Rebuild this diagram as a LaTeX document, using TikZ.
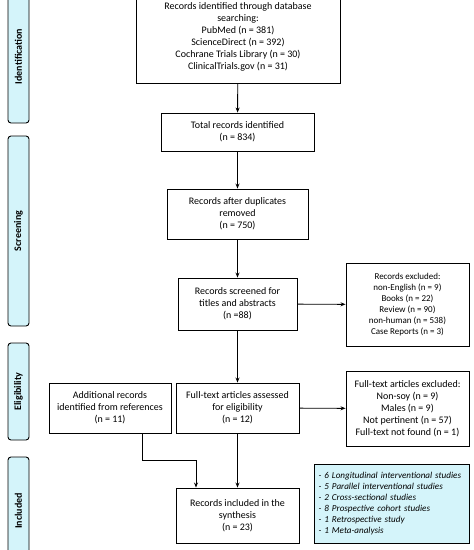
\documentclass[tikz,border=0pt]{standalone}
\usepackage{fontspec}
\setmainfont{Carlito}
\usetikzlibrary{arrows.meta}
\definecolor{phase}{HTML}{D4F4FA}
\begin{document}
\begin{tikzpicture}[x=1pt,y=-1pt,
  box/.style={draw=black,line width=0.9pt,fill=white,align=center,inner sep=0pt,
    font=\fontsize{10}{12}\selectfont},
  phasebox/.style={draw=black,line width=0.9pt,fill=phase,rounded corners=3pt,inner sep=0pt,
    minimum width=21pt,font=\bfseries\fontsize{10}{11}\selectfont},
  arr/.style={line width=0.9pt,-{Stealth[length=5pt,width=4pt]}}]
\useasboundingbox (0,0) rectangle (474,550);
% phase labels
\node[phasebox,minimum height=133pt] (pid) at (18.5,56.5) {\rotatebox{90}{Identification}};
\node[phasebox,minimum height=190pt] (psc) at (18.5,231) {\rotatebox{90}{Screening}};
\node[phasebox,minimum height=97pt] (pel) at (18.5,391.5) {\rotatebox{90}{Eligibility}};
\node[phasebox,minimum height=108pt] (pin) at (18.5,511) {\rotatebox{90}{Included}};
% main boxes
\node[box,minimum width=204pt,minimum height=93pt] (db) at (238,36.5)
  {Records identified through database\\searching:\\PubMed (n = 381)\\ScienceDirect (n = 392)\\Cochrane Trials Library (n = 30)\\ClinicalTrials.gov (n = 31)};
\node[box,minimum width=153pt,minimum height=38pt] (tot) at (237.5,132)
  {Total records identified\\(n = 834)};
\node[box,minimum width=141pt,minimum height=50pt] (dup) at (237.5,214)
  {Records after duplicates\\removed\\(n = 750)};
\node[box,minimum width=119pt,minimum height=52pt] (scr) at (237.5,304)
  {Records screened for\\titles and abstracts\\(n =88)};
\node[box,minimum width=123pt,minimum height=83pt,font=\fontsize{9}{11}\selectfont] (exc) at (407.5,304.5)
  {Records excluded:\\non-English (n = 9)\\Books (n = 22)\\Review (n = 90)\\non-human (n = 538)\\Case Reports (n = 3)};
\node[box,minimum width=123pt,minimum height=50pt] (ft) at (237.5,408)
  {Full-text articles assessed\\for eligibility\\(n = 12)};
\node[box,minimum width=122pt,minimum height=50pt] (add) at (110,408)
  {Additional records\\identified from references\\(n = 11)};
\node[box,minimum width=123pt,minimum height=75pt] (fte) at (407.5,408.5)
  {Full-text articles excluded:\\Non-soy (n = 9)\\Males (n = 9)\\Not pertinent (n = 57)\\Full-text not found (n = 1)};
\node[box,minimum width=123pt,minimum height=55pt] (inc) at (237.5,515.5)
  {Records included in the\\synthesis\\(n = 23)};
\node[box,fill=phase,minimum width=155pt,minimum height=79pt,align=left,text width=146pt,
  inner xsep=4.5pt,font=\itshape\fontsize{9.1}{11}\selectfont] (typ) at (391.5,503.5)
  {- 6 Longitudinal interventional studies\\- 5 Parallel interventional studies\\- 2 Cross-sectional studies\\- 8 Prospective cohort studies\\- 1 Retrospective study\\- 1 Meta-analysis};
% connectors
\draw[arr] (db) -- (tot);
\draw[arr] (tot) -- (dup);
\draw[arr] (dup) -- (scr);
\draw[arr] (scr) -- (exc);
\draw[arr] (scr) -- (ft);
\draw[arr] (ft) -- (fte);
\draw[arr] (ft) -- (inc);
\coordinate (bend1) at (142,460);
\coordinate (bend2) at (196,460);
\draw[arr] (add.south -| bend1) -- (bend1) -- (bend2) -- (bend2 |- inc.north);
\end{tikzpicture}
\end{document}
